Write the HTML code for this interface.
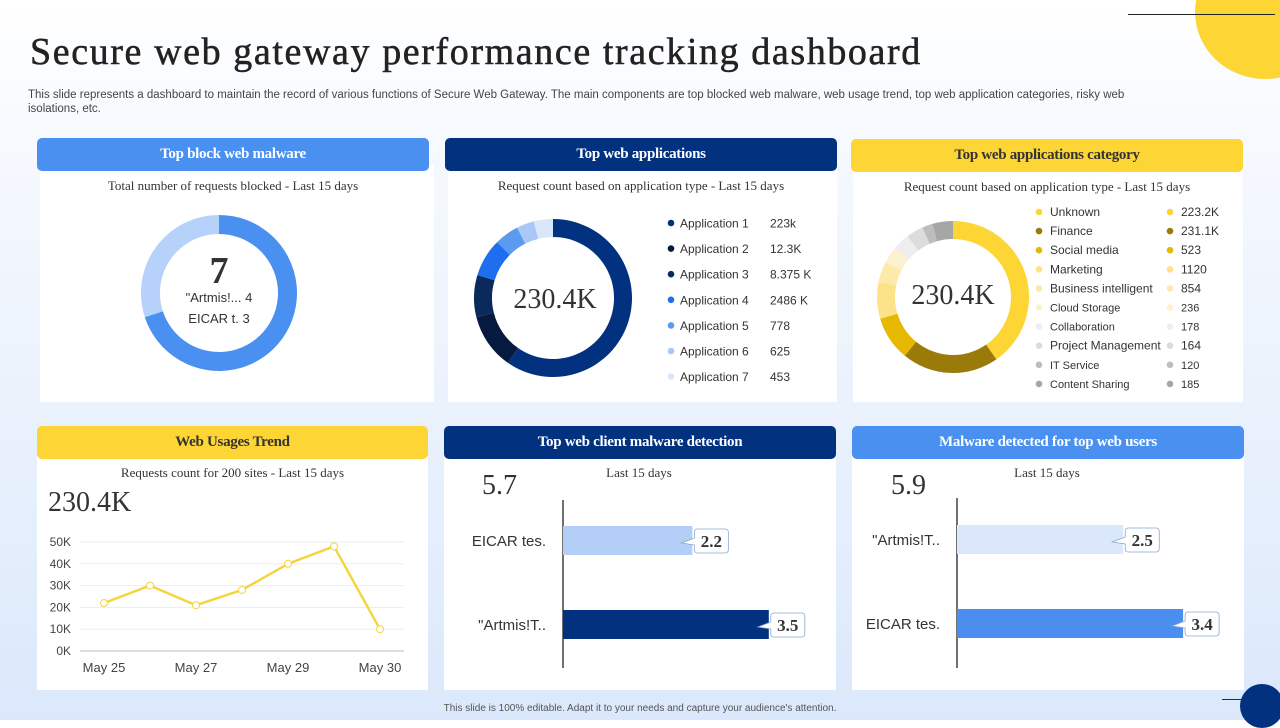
<!DOCTYPE html>
<html><head><meta charset="utf-8">
<style>
*{margin:0;padding:0;box-sizing:border-box}
body{width:1280px;height:720px;overflow:hidden;position:relative;font-family:"Liberation Sans",sans-serif;background:linear-gradient(180deg,#ffffff 0%,#f6f9fe 20%,#e9f1fc 60%,#dbe8fb 100%)}
.abs{position:absolute}
h1{position:absolute;left:30px;top:30px;font-family:"Liberation Serif",serif;font-size:38px;font-weight:normal;color:#222;letter-spacing:1.6px;-webkit-text-stroke:0.5px #222}
.desc{position:absolute;left:28px;top:88px;width:1150px;font-size:11.5px;color:#444;line-height:14px}
.panel{position:absolute;background:#fff}
.hdr{position:absolute;border-radius:5px;color:#fff;font-family:"Liberation Serif",serif;font-weight:bold;font-size:15px;text-align:center;line-height:33px;letter-spacing:-0.3px}
.sub{position:absolute;font-family:"Liberation Serif",serif;font-size:13px;color:#333;text-align:center}
svg text{font-family:"Liberation Sans",sans-serif}
svg text.serif{font-family:"Liberation Serif",serif}
</style></head><body>
<div class="abs" style="left:1195px;top:-55px;width:140px;height:134px;border-radius:50%;background:#fdd535"></div>
<div class="abs" style="left:1128px;top:14px;width:147px;height:1px;background:#222"></div>
<div class="abs" style="left:1240px;top:684px;width:44px;height:44px;border-radius:50%;background:#02317f"></div>
<div class="abs" style="left:1222px;top:699px;width:36px;height:1px;background:#02317f"></div>

<h1>Secure web gateway performance tracking dashboard</h1>
<div class="desc">This slide represents a dashboard to maintain the record of various functions of Secure Web Gateway. The main components are top blocked web malware, web usage trend, top web application categories, risky web isolations, etc.</div>

<div class="panel" style="left:40px;top:165px;width:394px;height:237px"></div>
<div class="panel" style="left:448px;top:165px;width:389px;height:237px"></div>
<div class="panel" style="left:853px;top:165px;width:390px;height:237px"></div>
<div class="panel" style="left:37px;top:452px;width:391px;height:238px"></div>
<div class="panel" style="left:444px;top:452px;width:392px;height:238px"></div>
<div class="panel" style="left:852px;top:452px;width:392px;height:238px"></div>

<div class="hdr" style="left:37px;top:138px;width:392px;height:33px;background:#4a90f0">Top block web malware</div>
<div class="hdr" style="left:445px;top:138px;width:392px;height:33px;background:#02317f">Top web applications</div>
<div class="hdr" style="left:851px;top:139px;width:392px;height:33px;background:#fdd535;color:#333">Top web applications category</div>
<div class="hdr" style="left:37px;top:426px;width:391px;height:33px;background:#fdd535;color:#333">Web Usages Trend</div>
<div class="hdr" style="left:444px;top:426px;width:392px;height:33px;background:#02317f">Top web client malware detection</div>
<div class="hdr" style="left:852px;top:426px;width:392px;height:33px;background:#4a90f0">Malware detected for top web users</div>

<div class="sub" style="left:37px;top:178px;width:392px">Total number of requests blocked - Last 15 days</div>
<div class="sub" style="left:445px;top:178px;width:392px">Request count based on application type - Last 15 days</div>
<div class="sub" style="left:851px;top:179px;width:392px">Request count based on application type - Last 15 days</div>
<div class="sub" style="left:37px;top:465px;width:391px">Requests count for 200 sites - Last 15 days</div>
<div class="sub" style="left:444px;top:465px;width:390px">Last 15 days</div>
<div class="sub" style="left:852px;top:465px;width:390px">Last 15 days</div>

<svg id="chart" class="abs" style="left:0;top:0" width="1280" height="720"></svg>

<div class="abs" style="left:0;top:703px;width:1280px;text-align:center;font-size:10px;color:#555">This slide is 100% editable. Adapt it to your needs and capture your audience's attention.</div>

<script>
// ---- data ----
const malwareLabels = ['"Artmis!... 4','EICAR t. 3'];
const malwareShares = [70, 30];
const appNames = ['Application 1','Application 2','Application 3','Application 4','Application 5','Application 6','Application 7'];
const appValueLabels = ['223k','12.3K','8.375 K','2486 K','778','625','453'];
const appShares = [59.7, 11.4, 8.6, 7.8, 5.0, 3.6, 3.9];
const catNames = ['Unknown','Finance','Social media','Marketing','Business intelligent','Cloud Storage','Collaboration','Project Management','IT Service','Content Sharing'];
const catValueLabels = ['223.2K','231.1K','523','1120','854','236','178','164','120','185'];
const catShares = [40.3, 20.6, 9.4, 7.8, 4.4, 3.6, 3.6, 3.6, 2.2, 4.4];
const trendDays = ['May 25','May 26','May 27','May 28','May 29','May 29b','May 30'];
const trendTickLabels = ['May 25','','May 27','','May 29','','May 30'];
const trendValues = [22, 30, 21, 28, 40, 48, 10];
const trendYTicks = [0, 10, 20, 30, 40, 50];
const clientCats = ['EICAR tes.', '"Artmis!T..'];
const clientValues = [2.2, 3.5];
const userCats = ['"Artmis!T..', 'EICAR tes.'];
const userValues = [2.5, 3.4];

const svg = document.getElementById('chart');
const NS = 'http://www.w3.org/2000/svg';
function mk(tag, attrs, parent){const e=document.createElementNS(NS,tag);for(const k in attrs)e.setAttribute(k,attrs[k]);(parent||svg).appendChild(e);return e;}
function txt(x,y,s,attrs){const e=mk('text',Object.assign({x:x,y:y},attrs||{}));e.textContent=s;return e;}

function donut(cx,cy,ro,ri,shares,colors,name){
  const total=shares.reduce((a,b)=>a+b,0);let a0=0;
  shares.forEach((v,i)=>{
    const a1=a0+v/total*Math.PI*2;
    const p=(r,a)=>[cx+r*Math.sin(a),cy-r*Math.cos(a)];
    const [x1,y1]=p(ro,a0),[x2,y2]=p(ro,a1),[x3,y3]=p(ri,a1),[x4,y4]=p(ri,a0);
    const lg=(a1-a0)>Math.PI?1:0;
    const e=mk('path',{d:`M${x1} ${y1}A${ro} ${ro} 0 ${lg} 1 ${x2} ${y2}L${x3} ${y3}A${ri} ${ri} 0 ${lg} 0 ${x4} ${y4}Z`,fill:colors[i]});
    
    
    a0=a1;
  });
}

donut(219,293,78,59,malwareShares,['#4a90f0','#b7d2fa'],'malware-donut');
let t=txt(219,283,'7',{'text-anchor':'middle','font-size':38,'class':'serif','font-weight':'bold',fill:'#333'});


malwareLabels.forEach((s,i)=>{const e=txt(219,302+i*21,s,{'text-anchor':'middle','font-size':13,fill:'#333'});
  
  });

const appColors=['#02317f','#061a40','#0b2a5c','#1e6ff0','#5c9af0','#a9c8f5','#d9e7fb'];
donut(553,298,79,61,appShares,appColors,'apps-donut');
t=txt(555,308,'230.4K',{'text-anchor':'middle','font-size':28,'class':'serif',fill:'#333'});


appNames.forEach((n,i)=>{const y=223+i*25.6;
  const c=mk('circle',{cx:671,cy:y,r:3.3,fill:appColors[i]});
  
  
  const a=txt(680,y+4.5,n,{'font-size':12,fill:'#333'});
  
  
  const b=txt(770,y+4.5,appValueLabels[i],{'font-size':12,fill:'#333'});
  
  });

const catColors=['#fdd535','#9a7a08','#e6b800','#fce38a','#fde9a8','#fdf2cf','#eeeeee','#dcdcdc','#bdbdbd','#a6a6a6'];
donut(953,297,76,58,catShares,catColors,'category-donut');
t=txt(953,304,'230.4K',{'text-anchor':'middle','font-size':28,'class':'serif',fill:'#333'});


catNames.forEach((n,i)=>{const y=212+i*19.1;const fs=i<5||i==7?12:11;
  const c=mk('circle',{cx:1039,cy:y,r:3.3,fill:catColors[i]});
  
  
  const a=txt(1050,y+4,n,{'font-size':fs,fill:'#333'});
  
  
  const c2=mk('circle',{cx:1170,cy:y,r:3.3,fill:catColors[i]});
  
  
  const b=txt(1181,y+4,catValueLabels[i],{'font-size':fs,fill:'#333'});
  
  });

t=txt(48,511,'230.4K',{'font-size':28,'class':'serif',fill:'#333'});


const yT=v=>651-v*2.18;
const xT=i=>104+i*46;
trendYTicks.forEach(v=>{
  const l=mk('line',{x1:80,x2:404,y1:yT(v),y2:yT(v),stroke:v==0?'#bbb':'#e8edf3','stroke-width':1});
  
  
  const e=txt(71,yT(v)+4,v+'K',{'text-anchor':'end','font-size':12,fill:'#444'});
  
  });
trendTickLabels.forEach((s,i)=>{if(!s)return;const e=txt(xT(i),672,s,{'text-anchor':'middle','font-size':13,fill:'#444'});
  
  });
const pl=mk('polyline',{points:trendValues.map((v,i)=>xT(i)+','+yT(v)).join(' '),fill:'none',stroke:'#f5d442','stroke-width':2.5,'stroke-linejoin':'round'});


trendValues.forEach((v,i)=>{const c=mk('circle',{cx:xT(i),cy:yT(v),r:3.5,fill:'#fff',stroke:'#f5d442','stroke-width':1});
  
  });

function hbar(ax,top,bottom,scale,cats,vals,colors,rowYs,big,bigX,name){
  const b=txt(bigX,494,big,{'font-size':28,'class':'serif',fill:'#333'});
  
  
  const l=mk('line',{x1:ax,x2:ax,y1:top,y2:bottom,stroke:'#111','stroke-width':1.2});
  
  
  cats.forEach((c,i)=>{
    const y=rowYs[i],w=vals[i]*scale;
    const r=mk('rect',{x:ax,y:y-15,width:w,height:29,fill:colors[i]});
    
    
    const e=txt(ax-17,y+5,c,{'text-anchor':'end','font-size':15,fill:'#333'});
    
    
    const bx=ax+w+5;
    const p=mk('path',{d:`M${bx} ${y-12}h28a3 3 0 0 1 3 3v18a3 3 0 0 1-3 3h-28a3 3 0 0 1-3-3v-5l-13-2l13-5v-6a3 3 0 0 1 3-3z`,fill:'#fff',stroke:'#8aa7d0','stroke-width':0.8});
    
    
    const v=txt(bx+14,y+6,vals[i].toFixed(1),{'text-anchor':'middle','font-size':17,'class':'serif','font-weight':'bold',fill:'#333'});
    
    
  });
}
hbar(563,500,668,58.8,clientCats,clientValues,['#b3cff8','#02317f'],[541,625],'5.7',482,'client-malware');
hbar(957,498,668,66.5,userCats,userValues,['#dbe8fb','#4a8ff0'],[540,624],'5.9',891,'user-malware');
</script>
</body></html>
